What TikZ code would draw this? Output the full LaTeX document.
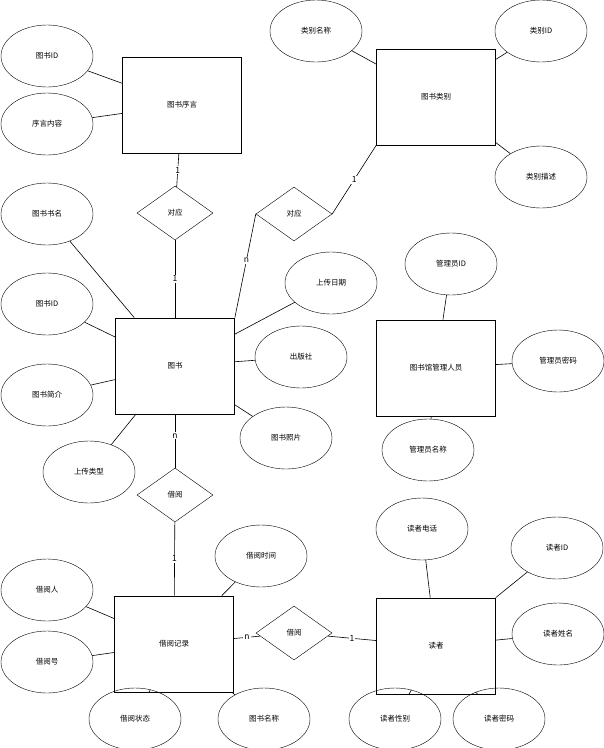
\documentclass[tikz,border=0pt]{standalone}
\usepackage{fontspec}
\setmainfont{Noto Sans CJK SC}
\usetikzlibrary{shapes.geometric}
\begin{document}
\begin{tikzpicture}[x=1pt,y=-1pt,font=\fontsize{7.5}{9}\selectfont,
  ent/.style={draw,thick,minimum width=119pt,minimum height=96pt,inner sep=0pt},
  att/.style={draw,ellipse,minimum width=92pt,minimum height=62pt,inner sep=0pt},
  rel/.style={draw,diamond,minimum width=76pt,minimum height=54pt,inner sep=0pt,aspect=1.4},
  ln/.style={draw,semithick},
  card/.style={fill=white,inner sep=1pt,font=\fontsize{8.5}{9}\selectfont}]
\useasboundingbox (0,0) rectangle (604,748);
\node[ent] (xu) at (182,105) {图书序言};
\node[ent] (cat) at (436,97) {图书类别};
\node[ent] (book) at (175,366) {图书};
\node[ent] (adm) at (436,368) {图书馆管理人员};
\node[ent] (rec) at (174,644) {借阅记录};
\node[ent] (rd) at (436,646) {读者};
\node[rel] (d1) at (175,213) {对应};
\node[rel] (d2) at (294,214) {对应};
\node[rel] (d3) at (175,495) {借阅};
\node[rel] (d4) at (294,633) {借阅};
\node[att] (a1) at (47,56) {图书ID};
\node[att] (a2) at (47,124) {序言内容};
\node[att] (a3) at (316,31) {类别名称};
\node[att] (a4) at (541,31) {类别ID};
\node[att] (a5) at (541,177) {类别描述};
\node[att] (b1) at (47,214) {图书书名};
\node[att] (b2) at (47,304) {图书ID};
\node[att] (b3) at (47,395) {图书简介};
\node[att] (b4) at (89,472) {上传类型};
\node[att] (b5) at (331,283) {上传日期};
\node[att] (b6) at (301,357) {出版社};
\node[att] (b7) at (286,438) {图书照片};
\node[att] (m1) at (451,264) {管理员ID};
\node[att] (m2) at (558,361) {管理员密码};
\node[att] (m3) at (428,450) {管理员名称};
\node[att] (r1) at (261,556) {借阅时间};
\node[att] (r2) at (47,590) {借阅人};
\node[att] (r3) at (47,662) {借阅号};
\node[att] (r4) at (135,719) {借阅状态};
\node[att] (r5) at (264,719) {图书名称};
\node[att] (s1) at (422,529) {读者电话};
\node[att] (s2) at (557,548) {读者ID};
\node[att] (s3) at (558,634) {读者姓名};
\node[att] (s4) at (395,719) {读者性别};
\node[att] (s5) at (499,719) {读者密码};
% relationships
\path[ln] (xu) -- node[card]{1} (d1);
\path[ln] (d1) -- node[card]{1} (book);
\path[ln] (book.north east) -- node[card,pos=0.55]{n} (d2.west);
\path[ln] (d2.east) -- node[card,pos=0.5]{1} (cat.south west);
\path[ln] (book) -- node[card,pos=0.4]{n} (d3);
\path[ln] (d3) -- node[card]{1} (rec);
\path[ln] (rec) -- node[card,pos=0.5]{n} (d4);
\path[ln] (d4) -- node[card]{1} (rd);
% attributes
\foreach \a/\e in {a1/xu,a2/xu,a3/cat,a4/cat,a5/cat,b1/book,b2/book,b3/book,b4/book,b5/book,b6/book,b7/book,m1/adm,m2/adm,m3/adm,r1/rec,r2/rec,r3/rec,r4/rec,r5/rec,s1/rd,s2/rd,s3/rd,s4/rd,s5/rd}
  \path[ln] (\a) -- (\e);
\end{tikzpicture}
\end{document}
